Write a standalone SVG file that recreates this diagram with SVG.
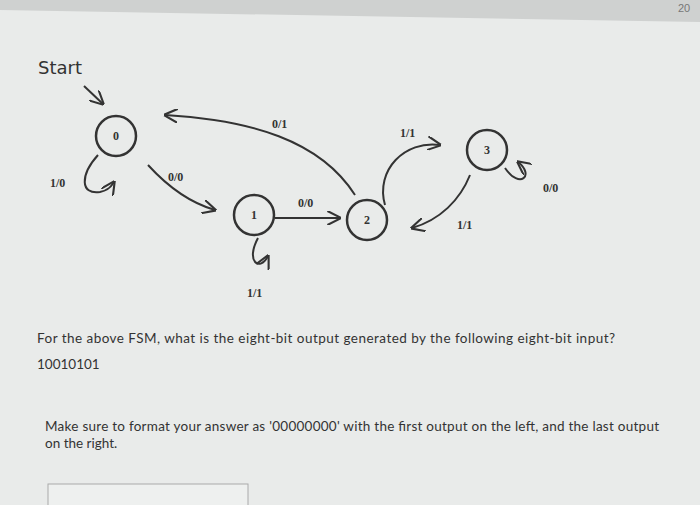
<svg xmlns="http://www.w3.org/2000/svg" width="700" height="505" viewBox="0 0 700 505">
<defs>
<style>
.st{fill:none;stroke:#333;stroke-width:2.5}
.ln{fill:none;stroke:#333;stroke-width:2}
.lb{font-family:"Liberation Serif",serif;font-size:12px;font-weight:bold;fill:#333}
.tx{font-family:Lato,"Liberation Sans",sans-serif;font-size:13.5px;fill:#333}
</style>
<marker id="a" viewBox="0 0 10 10" refX="9" refY="5" markerWidth="7" markerHeight="7" orient="auto"><path d="M0,0L10,5L0,10" fill="none" stroke="#333" stroke-width="1.5"/></marker>
</defs>
<rect width="700" height="505" fill="#e9ebea"/>
<path d="M0,0H700V22L0,10Z" fill="#cfd1d0"/>
<text x="678" y="12" font-family="Liberation Sans,sans-serif" font-size="11" fill="#777">20</text>
<text x="38" y="74" font-family="DejaVu Sans,sans-serif" font-size="18" fill="#333">Start</text>
<g id="connectors">
<path class="ln" d="M84,86L103,104" marker-end="url(#a)"/>
<path class="ln" d="M98,155C80,175 80,195 100,192C110,190 112,185 114,182" marker-end="url(#a)"/>
<path class="ln" d="M148,165Q180,200 215,210" marker-end="url(#a)"/>
<path class="ln" d="M258,238C245,262 260,272 268,256" marker-end="url(#a)"/>
<path class="ln" d="M275,218L340,218" marker-end="url(#a)"/>
<path class="ln" d="M355,195C320,140 250,120 165,115" marker-end="url(#a)"/>
<path class="ln" d="M385,205C375,170 405,140 440,145" marker-end="url(#a)"/>
<path class="ln" d="M470,175C460,200 440,220 412,228" marker-end="url(#a)"/>
<path class="ln" d="M505,168C520,190 535,175 518,162" marker-end="url(#a)"/>
</g>
<g id="s0"><circle cx="116" cy="136" r="20" class="st"/><text x="116" y="140" class="lb" text-anchor="middle">0</text></g>
<g id="s1"><circle cx="254" cy="215" r="20" class="st"/><text x="254" y="219" class="lb" text-anchor="middle">1</text></g>
<g id="s2"><circle cx="367" cy="220" r="20" class="st"/><text x="367" y="224" class="lb" text-anchor="middle">2</text></g>
<g id="s3"><circle cx="487" cy="150" r="20" class="st"/><text x="487" y="154" class="lb" text-anchor="middle">3</text></g>
<text x="50" y="187" class="lb">1/0</text>
<text x="272" y="128" class="lb">0/1</text>
<text x="400" y="137" class="lb">1/1</text>
<text x="168" y="181" class="lb">0/0</text>
<text x="298" y="207" class="lb">0/0</text>
<text x="457" y="229" class="lb">1/1</text>
<text x="543" y="192" class="lb">0/0</text>
<text x="247" y="297" class="lb">1/1</text>
<text x="37" y="343" class="tx" textLength="578">For the above FSM, what is the eight-bit output generated by the following eight-bit input?</text>
<text x="37" y="369" class="tx">10010101</text>
<text x="45" y="431" class="tx" textLength="614">Make sure to format your answer as '00000000' with the first output on the left, and the last output</text>
<text x="45" y="448" class="tx">on the right.</text>
<rect x="48" y="484" width="200" height="30" fill="#eef0ef" stroke="#aaa"/>
</svg>
